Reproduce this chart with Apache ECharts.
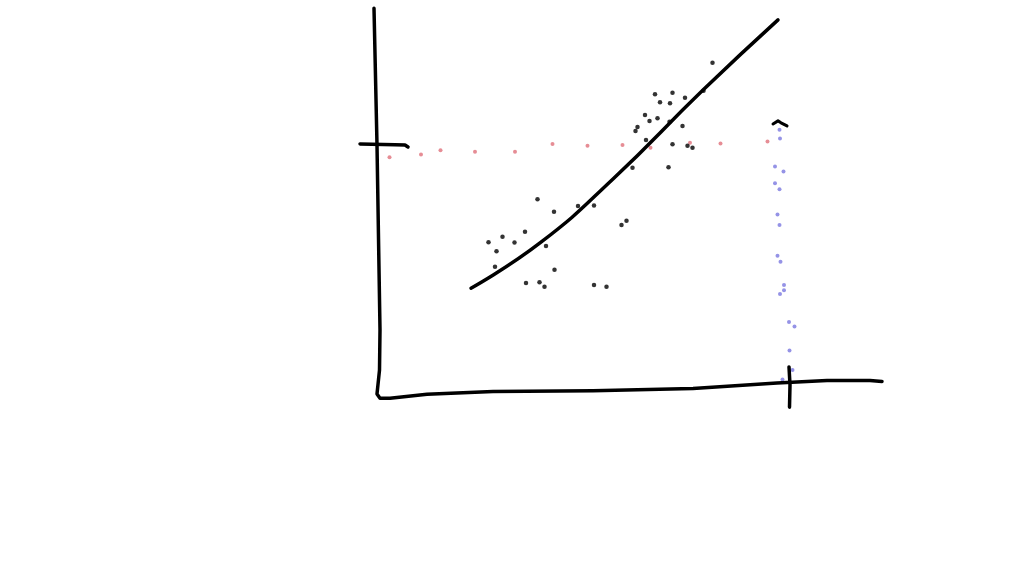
<!DOCTYPE html>
<html>
<head>
<meta charset="utf-8">
<script src="https://cdn.jsdelivr.net/npm/echarts@6/dist/echarts.min.js"></script>
<style>html,body{margin:0;padding:0;background:#fff;}#c{width:1024px;height:576px;}</style>
</head>
<body>
<div id="c"></div>
<script>
// Hand-drawn axes (data units)
var axesPath = [[-0.06,9.97],[0,6.46],[0.06,1.72],[0.05,0.69],[0,0.08],[0.06,-0.03],[0.26,-0.03],[1.0,0.07],[2.32,0.14],[4.32,0.16],[6.32,0.22],[8.0,0.36],[9.0,0.42],[9.86,0.42],[10.1,0.40]];
var yTick = [[-0.34,6.49],[0.36,6.47],[0.56,6.46],[0.62,6.41]];
var xTick = [[8.24,0.77],[8.26,0.31],[8.25,-0.26]];
var trendLine = [[1.88,2.79],[3.26,3.95],[4.72,5.59],[6.52,7.87],[8.02,9.67]];
var samplePoints = [[3.21,5.07],[3.54,4.75],[4.02,4.90],[4.34,4.91],[4.89,4.41],[4.99,4.52],[2.96,4.24],[2.51,4.11],[2.23,3.97],[2.75,3.96],[2.39,3.74],[3.38,3.87],[2.36,3.34],[3.55,3.26],[2.98,2.92],[3.25,2.94],[3.35,2.83],[4.34,2.87],[4.59,2.83],[6.71,8.57],[5.56,7.76],[5.91,7.80],[5.66,7.56],[5.86,7.53],[6.16,7.67],[5.36,7.23],[5.61,7.15],[5.45,7.08],[5.21,6.92],[5.17,6.82],[5.85,7.06],[6.11,6.95],[6.53,7.85],[5.38,6.59],[5.91,6.48],[6.21,6.44],[6.31,6.39],[5.11,5.88],[5.83,5.89]];
var squiggle = [[7.92,7.0],[8.02,7.08],[8.08,7.03],[8.2,6.95]];
var redDots = [[0.25,6.15],[0.88,6.22],[1.27,6.33],[1.96,6.29],[2.76,6.29],[3.51,6.49],[4.21,6.44],[4.91,6.46],[5.47,6.39],[6.26,6.52],[6.87,6.50],[7.81,6.55]];
var blueDots = [[8.05,6.85],[8.06,6.63],[7.96,5.91],[8.13,5.78],[7.96,5.48],[8.05,5.33],[8.01,4.68],[8.05,4.41],[8.01,3.62],[8.07,3.47],[8.14,2.87],[8.14,2.74],[8.06,2.64],[8.24,1.92],[8.35,1.81],[8.25,1.19],[8.31,0.69],[8.11,0.45]];

var chart = echarts.init(document.getElementById('c'));
function lineS(data, w, smooth){
  return {type:'line', data:data, smooth:smooth||false, symbol:'none', silent:true,
    lineStyle:{color:'#000', width:w, cap:'round', join:'round'}, z:3};
}
chart.setOption({
  animation:false,
  backgroundColor:'#fff',
  grid:{left:327, right:97, top:7, bottom:140},
  xAxis:{type:'value', min:-1, max:11, show:false},
  yAxis:{type:'value', min:-1, max:10, show:false},
  series:[
    lineS(axesPath, 3.5, false),
    lineS(yTick, 3.5, false),
    lineS(xTick, 3.5, false),
    lineS(trendLine, 3.5, true),
    lineS(squiggle, 3, false),
    {type:'scatter', data:samplePoints, symbol:'circle', symbolSize:4.5, itemStyle:{color:'#000'}, silent:true, z:4},
    {type:'scatter', data:redDots, symbol:'circle', symbolSize:4, itemStyle:{color:'#e0707a'}, silent:true, z:2},
    {type:'scatter', data:blueDots, symbol:'circle', symbolSize:4, itemStyle:{color:'#7b78e0'}, silent:true, z:2}
  ]
});
</script>
</body>
</html>
